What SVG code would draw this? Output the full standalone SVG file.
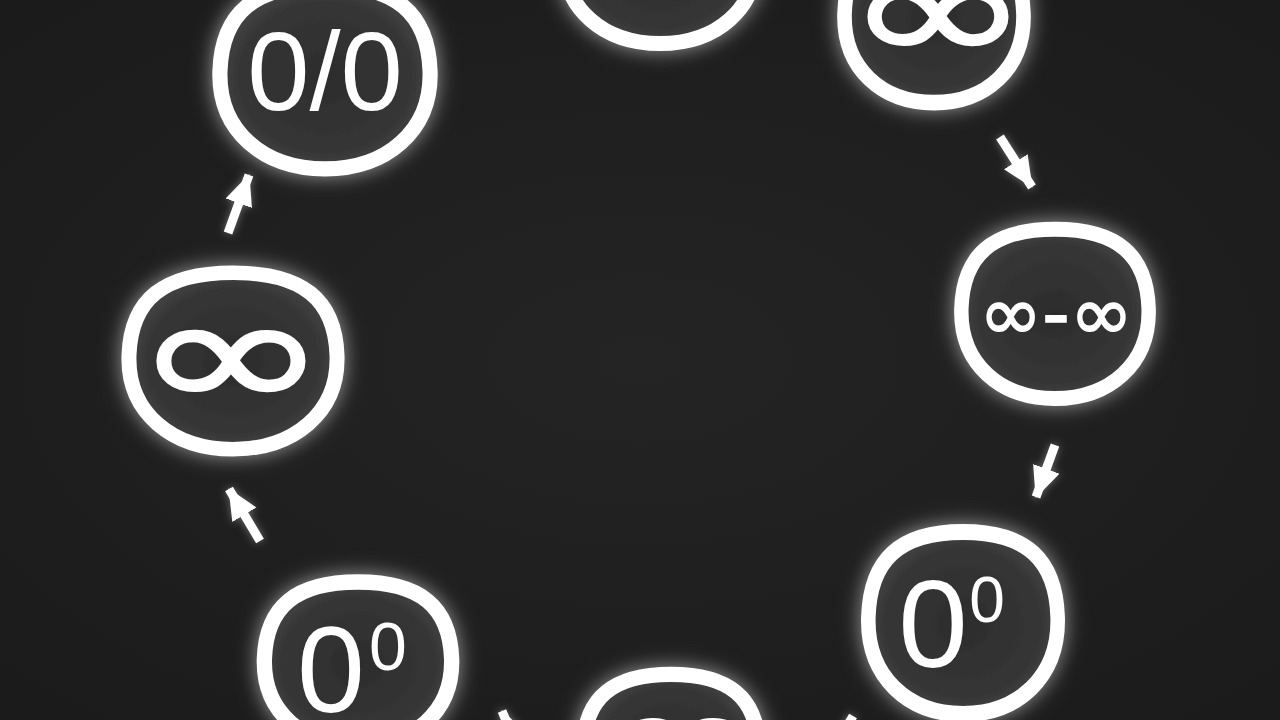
<svg xmlns="http://www.w3.org/2000/svg" width="1280" height="720" viewBox="0 0 1280 720">
  <defs>
    <radialGradient id="bg" cx="50%" cy="50%" r="75%">
      <stop offset="0" stop-color="#242424"/>
      <stop offset="1" stop-color="#1a1a1a"/>
    </radialGradient>
    <radialGradient id="inner" cx="50%" cy="50%" r="55%">
      <stop offset="0" stop-color="#2c2c2c"/>
      <stop offset="0.75" stop-color="#363636"/>
      <stop offset="1" stop-color="#4a4a4a"/>
    </radialGradient>
    <filter id="glow" x="-40%" y="-40%" width="180%" height="180%">
      <feGaussianBlur in="SourceAlpha" stdDeviation="10" result="b"/>
      <feFlood flood-color="#ffffff" flood-opacity="0.55"/>
      <feComposite in2="b" operator="in" result="g"/>
      <feMerge><feMergeNode in="g"/><feMergeNode in="SourceGraphic"/></feMerge>
    </filter>
    <filter id="softglow" x="-30%" y="-30%" width="160%" height="160%">
      <feGaussianBlur in="SourceAlpha" stdDeviation="4" result="b"/>
      <feFlood flood-color="#ffffff" flood-opacity="0.35"/>
      <feComposite in2="b" operator="in" result="g"/>
      <feMerge><feMergeNode in="g"/><feMergeNode in="SourceGraphic"/></feMerge>
    </filter>
    <path id="blob" d="M 0,-90 C 70,-90 102,-62 104,-5 C 106,55 60,92 0,92 C -60,92 -106,55 -104,-5 C -102,-62 -70,-90 0,-90 Z"/>
    <marker id="ah" markerUnits="userSpaceOnUse" markerWidth="32" markerHeight="32" viewBox="0 0 32 32" refX="30" refY="16" orient="auto">
      <path d="M 0,2 L 31,16 L 0,30 Z" fill="#ffffff"/>
    </marker>
    <style>
      .shape { fill: url(#inner); stroke: #ffffff; stroke-width: 15; }
      .num { font-family: "Liberation Sans", Arial, sans-serif; fill: #ffffff; text-anchor: middle; }
      .inf { font-family: "DejaVu Sans", sans-serif; fill: #ffffff; stroke: #ffffff; stroke-width: 2.5; text-anchor: middle; }
      .arrow { stroke: #ffffff; stroke-width: 9; fill: none; marker-end: url(#ah); }
    </style>
  </defs>

  <rect width="1280" height="720" fill="url(#bg)"/>

  <g id="connectors" filter="url(#softglow)">
    <line class="arrow" x1="1000" y1="137" x2="1032" y2="187"/>
    <line class="arrow" x1="1055" y1="445" x2="1036" y2="497"/>
    <line class="arrow" x1="260" y1="541" x2="229" y2="489"/>
    <line class="arrow" x1="228" y1="233" x2="249" y2="175"/>
    <line class="arrow" x1="525" y1="765" x2="502" y2="711"/>
    <line class="arrow" x1="853" y1="716" x2="822" y2="768"/>
  </g>

  <g id="node-top-center" filter="url(#glow)">
    <use href="#blob" class="shape" transform="translate(660,-42) scale(0.93)" style="stroke-width:16"/>
  </g>

  <g id="node-top-right" filter="url(#glow)">
    <use href="#blob" class="shape" transform="translate(934,18) scale(0.86,0.92)" style="stroke-width:17"/>
    <text class="inf" transform="translate(938,17) scale(1.31,0.89)" x="0" y="50" font-size="170">∞</text>
  </g>

  <g id="node-right" filter="url(#glow)">
    <use href="#blob" class="shape" transform="translate(1055,313) scale(0.9,0.93)" style="stroke-width:16"/>
    <text class="inf" x="1056" y="340" font-size="76" style="stroke-width:1.5">∞-∞</text>
  </g>

  <g id="node-bottom-right" filter="url(#glow)">
    <use href="#blob" class="shape" transform="translate(963,622) scale(0.91,1)" style="stroke-width:16"/>
    <text class="num" x="933" y="667" font-size="125">0</text>
    <text class="num" x="987" y="622" font-size="64">0</text>
  </g>

  <g id="node-bottom-center" filter="url(#glow)">
    <use href="#blob" class="shape" transform="translate(671,750) scale(0.84)" style="stroke-width:18"/>
    <text class="inf" transform="translate(683,745) scale(1.31,0.89)" x="0" y="44" font-size="150">∞</text>
  </g>

  <g id="node-bottom-left" filter="url(#glow)">
    <use href="#blob" class="shape" transform="translate(358,663) scale(0.9)" style="stroke-width:17"/>
    <text class="num" x="331" y="712" font-size="122">0</text>
    <text class="num" x="388" y="670" font-size="68">0</text>
  </g>

  <g id="node-left" filter="url(#glow)">
    <use href="#blob" class="shape" transform="translate(233,360) scale(1,0.97)" style="stroke-width:15"/>
    <text class="inf" transform="translate(231,362) scale(1.31,0.89)" x="0" y="53" font-size="180">∞</text>
  </g>

  <g id="node-top-left" filter="url(#glow)">
    <use href="#blob" class="shape" transform="translate(325,76) scale(1.01)" style="stroke-width:15"/>
    <text class="num" x="325" y="110" font-size="112">0/0</text>
  </g>
</svg>
